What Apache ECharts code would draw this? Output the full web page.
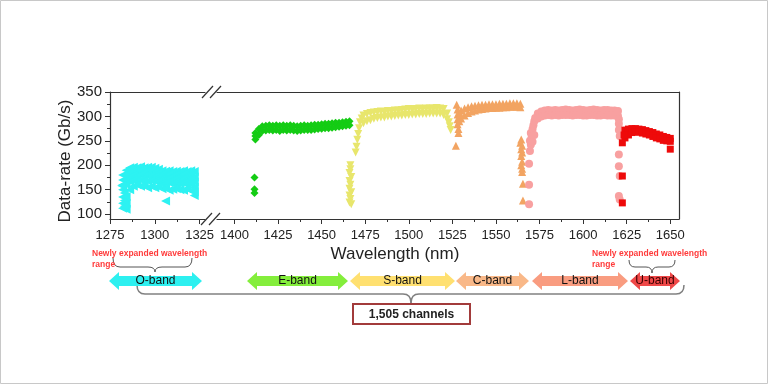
<!DOCTYPE html>
<html><head><meta charset="utf-8">
<script src="https://cdn.jsdelivr.net/npm/echarts@6/dist/echarts.min.js"></script>
<style>html,body{margin:0;padding:0;background:#fff}#c{width:768px;height:384px}</style>
</head><body><div id="c"></div>
<script>
// ---------- axis ticks ----------
const yTicks = [100, 150, 200, 250, 300, 350];
const yMinorTicks = [125, 175, 225, 275, 325];
const xTicksLeft = [1275, 1300, 1325];
const xMinorLeft = [1287.5, 1312.5];
const xTicksRight = [1400, 1425, 1450, 1475, 1500, 1525, 1550, 1575, 1600, 1625, 1650];
const xMinorRight = [1412.5, 1437.5, 1462.5, 1487.5, 1512.5, 1537.5, 1562.5, 1587.5, 1612.5, 1637.5];

// ---------- O-band ----------
const oWl = [1282,1284,1286,1288,1290,1292,1294,1296,1298,1300,1302,1304,1306,1308,1310,1312,1314,1316,1318,1320,1322];
const oHigh  = [180,190,195,196,195,197,195,196,196,194,192,189,188,189,187,188,187,189,187,189,187];
const oUpper = [170,180,186,188,187,189,187,188,187,186,184,181,180,181,179,180,179,181,179,180,176];
const oMid   = [160,170,177,179,178,180,178,179,178,177,175,172,172,173,171,172,171,172,171,172,166];
const oLower = [150,160,167,169,169,170,169,168,169,168,167,163,163,164,162,163,162,163,162,162,155];
const oLow   = [112,110,150,157,160,157,158,154,157,154,156,152,153,149,151,152,150,149,152,148,138];
const oExtraWl   = [1282,1282,1283,1283,1284,1284,1306,1322,1281.5,1283];
const oExtraRate = [122,135,128,143,122,136,127,146,158,116];

// ---------- E-band ----------
const eWl = [1412,1414,1416,1418,1420,1422,1424,1426,1428,1430,1432,1434,1436,1438,1440,1442,1444,1446,1448,1450,1452,1454,1456,1458,1460,1462,1464,1466];
const eHigh = [266,274,280,281,282,281,282,281,282,281,282,281,280,281,282,281,282,283,283,284,285,285,286,287,287,288,289,290];
const eLow  = [253,262,270,271,272,271,272,270,272,271,272,271,270,271,272,272,272,273,274,275,276,276,277,278,279,280,281,282];
const eExtraWl   = [1412,1411.5,1411.5,1411.5];
const eExtraRate = [260,175,151,143];

// ---------- S-band ----------
const sWl = [1474,1476,1478,1480,1482,1484,1486,1488,1490,1492,1494,1496,1498,1500,1502,1504,1506,1508,1510,1512,1514,1516,1518,1520,1522];
const sHigh = [302,305,307,308,309,310,309,311,311,312,312,313,314,315,314,315,316,315,316,316,316,317,316,315,306];
const sLow  = [286,290,292,295,297,298,298,300,300,301,302,302,303,303,304,304,305,305,305,306,306,306,306,303,294];
const sExtraWl   = [1473,1472,1471.5,1471,1470.5,1470,1469.5,1466.5,1466.5,1466,1467,1466,1466.5,1466,1467,1466,1466.5,1466,1467,1523,1523.5,1524];
const sExtraRate = [296,288,276,264,252,238,226,200,192,184,176,168,160,152,145,138,131,124,120,288,280,272];

// ---------- C-band ----------
const cWl = [1530,1532,1534,1536,1538,1540,1542,1544,1546,1548,1550,1552,1554,1556,1558,1560,1562,1564];
const cHigh = [312,316,319,321,322,323,324,324,325,325,325,326,326,326,327,327,327,326];
const cLow  = [296,302,307,310,312,314,315,316,317,317,318,318,319,319,320,320,320,319];
const cExtraWl   = [1527.5,1528,1528,1528,1528,1528.5,1528.5,1529,1529.5,1527,1564.5,1564,1565,1564.5,1565,1564.5,1565,1564.5,1565,1565,1565.5,1565.5];
const cExtraRate = [324,314,304,294,284,274,266,290,305,240,253,246,240,233,226,219,207,200,193,186,162,128];

// ---------- L-band ----------
const lWl = [1574,1576,1578,1580,1582,1584,1586,1588,1590,1592,1594,1596,1598,1600,1602,1604,1606,1608,1610,1612,1614,1616,1618,1620];
const lHigh = [306,310,312,313,312,313,312,313,314,313,312,313,314,313,312,313,314,313,312,313,313,312,312,311];
const lLow  = [296,300,302,303,302,303,302,303,303,303,302,303,303,302,302,303,303,302,302,303,302,302,302,301];
const lExtraWl   = [1569,1569,1569,1569.5,1570,1569.5,1570.5,1570,1571,1571.5,1572,1572.5,1571,1572,1620.5,1620.5,1620.5,1621,1620.5,1620.5,1621,1620.5,1621];
const lExtraRate = [120,160,203,229,242,250,258,266,274,282,290,297,248,262,294,285,272,260,222,198,178,137,130];

// ---------- U-band ----------
const uWl = [1624,1626,1628,1630,1632,1634,1636,1638,1640,1642,1644,1646,1648,1650];
const uHigh = [272,274,275,275,274,273,271,269,267,264,262,259,257,255];
const uLow  = [256,262,267,268,268,266,264,262,259,256,254,251,250,249];
const uExtraWl   = [1622.5,1622.5,1622.5,1650,1623.5];
const uExtraRate = [246,178,123,233,262];

// ---------- band annotation labels ----------
const bandNames = ['O-band','E-band','S-band','C-band','L-band','U-band'];
const totalLabel = '1,505 channels';
const newRangeLine1 = 'Newly expanded wavelength';
const newRangeLine2 = 'range';

// ---------- helpers ----------
function pts(wl, rows, exWl, exRate) {
  const out = [];
  rows.forEach(r => r.forEach((v, i) => out.push([wl[i], v])));
  exWl.forEach((w, i) => out.push([w, exRate[i]]));
  return out;
}
function arrow(x1, x2, cy) {
  const hl = 10, hh = 9, bh = 5;
  return [[x1, cy], [x1 + hl, cy - hh], [x1 + hl, cy - bh], [x2 - hl, cy - bh], [x2 - hl, cy - hh], [x2, cy],
          [x2 - hl, cy + hh], [x2 - hl, cy + bh], [x1 + hl, cy + bh], [x1 + hl, cy + hh]];
}
function brace(x1, x2, xc, yEnd, yBar, yTip, r, stroke, lw) {
  const st = { fill: 'none', stroke, lineWidth: lw };
  return [
    { type: 'bezierCurve', shape: { x1: x1, y1: yEnd, cpx1: x1, cpy1: yBar, x2: x1 + r, y2: yBar }, style: st },
    { type: 'line', shape: { x1: x1 + r, y1: yBar, x2: xc - r, y2: yBar }, style: st },
    { type: 'bezierCurve', shape: { x1: xc - r, y1: yBar, cpx1: xc, cpy1: yBar, x2: xc, y2: yTip }, style: st },
    { type: 'bezierCurve', shape: { x1: xc, y1: yTip, cpx1: xc, cpy1: yBar, x2: xc + r, y2: yBar }, style: st },
    { type: 'line', shape: { x1: xc + r, y1: yBar, x2: x2 - r, y2: yBar }, style: st },
    { type: 'bezierCurve', shape: { x1: x2 - r, y1: yBar, cpx1: x2, cpy1: yBar, x2: x2, y2: yEnd }, style: st }
  ];
}

const AX = '#333';
const FONT = "'Liberation Sans', Arial, sans-serif";
const Y0 = 90, Y1 = 350;

function xMain(grid, min, max, ticks) {
  return { gridIndex: grid, type: 'value', min, max, position: 'bottom',
    axisLine: { show: true, lineStyle: { color: AX, width: 1.2 } },
    axisTick: { show: true, inside: false, length: 5, customValues: ticks, lineStyle: { color: AX, width: 1 } },
    axisLabel: { show: true, customValues: ticks, margin: 10, fontSize: 13, fontFamily: FONT, color: '#222',
      formatter: v => String(v) },
    splitLine: { show: false } };
}
function xMinor(grid, min, max, ticks) {
  return { gridIndex: grid, type: 'value', min, max, position: 'bottom',
    axisLine: { show: false },
    axisTick: { show: true, inside: false, length: 3, customValues: ticks, lineStyle: { color: AX, width: 1 } },
    axisLabel: { show: false }, splitLine: { show: false } };
}
function xTop(grid, min, max) {
  return { gridIndex: grid, type: 'value', min, max, position: 'top',
    axisLine: { show: true, lineStyle: { color: AX, width: 1.2 } },
    axisTick: { show: false }, axisLabel: { show: false }, splitLine: { show: false } };
}

const bandX1 = [109, 247, 350, 456, 532, 630];
const bandX2 = [202, 348, 455, 529, 628, 680];
const bandCol = ['#2df0f0', '#84ee3c', '#ffe070', '#f9b888', '#f99c80', '#ef4848'];
const bandTxt = ['#111', '#111', '#111', '#111', '#111', '#3a0000'];
const CY = 281;
const noteStyle = { fontSize: 8.5, fontWeight: 'bold', fontFamily: FONT, fill: '#ff3b3b', align: 'left', verticalAlign: 'middle' };

const graphic = [
  { type: 'rect', shape: { x: 0.5, y: 0.5, width: 767, height: 383 }, style: { fill: 'none', stroke: '#c8c8c8', lineWidth: 1 }, z: 0 },
  { type: 'line', shape: { x1: 202, y1: 98, x2: 213, y2: 86 }, style: { stroke: AX, lineWidth: 1.2 } },
  { type: 'line', shape: { x1: 210, y1: 98, x2: 221, y2: 86 }, style: { stroke: AX, lineWidth: 1.2 } },
  { type: 'line', shape: { x1: 201, y1: 225, x2: 212, y2: 213 }, style: { stroke: AX, lineWidth: 1.2 } },
  { type: 'line', shape: { x1: 209, y1: 225, x2: 220, y2: 213 }, style: { stroke: AX, lineWidth: 1.2 } },
  { type: 'text', x: 65, y: 161, rotation: Math.PI / 2,
    style: { text: 'Data-rate (Gb/s)', fontSize: 17, fontFamily: FONT, fill: '#222', align: 'center', verticalAlign: 'middle' } },
  { type: 'text', x: 395, y: 254,
    style: { text: 'Wavelength (nm)', fontSize: 17, fontFamily: FONT, fill: '#222', align: 'center', verticalAlign: 'middle' } }
];
graphic.push(...brace(137, 684, 411, 285, 294, 303, 8, '#808080', 1.5));
graphic.push(...brace(113, 192, 155, 258, 267, 272, 7, '#555', 1));
graphic.push(...brace(629, 675, 652, 260, 267, 273, 6, '#555', 1));
graphic.push(
  { type: 'rect', shape: { x: 353, y: 304, width: 117, height: 20 }, style: { fill: '#fff', stroke: '#a23b3b', lineWidth: 2 } },
  { type: 'text', x: 411.5, y: 314.5,
    style: { text: totalLabel, fontSize: 12, fontWeight: 'bold', fontFamily: FONT, fill: '#222', align: 'center', verticalAlign: 'middle' } },
  { type: 'text', x: 92, y: 253.5, style: Object.assign({ text: newRangeLine1 }, noteStyle) },
  { type: 'text', x: 92, y: 264.5, style: Object.assign({ text: newRangeLine2 }, noteStyle) },
  { type: 'text', x: 592, y: 253.5, style: Object.assign({ text: newRangeLine1 }, noteStyle) },
  { type: 'text', x: 592, y: 264.5, style: Object.assign({ text: newRangeLine2 }, noteStyle) }
);
bandNames.forEach((name, i) => {
  graphic.push({ type: 'polygon', shape: { points: arrow(bandX1[i], bandX2[i], CY) }, style: { fill: bandCol[i] } });
  graphic.push({ type: 'text', x: (bandX1[i] + bandX2[i]) / 2, y: CY,
    style: { text: name, fontSize: 12, fontFamily: FONT, fill: bandTxt[i], align: 'center', verticalAlign: 'middle' } });
});

function sc(name, data, xi, yi, symbol, size, color, rot) {
  return { name, type: 'scatter', xAxisIndex: xi, yAxisIndex: yi, data, symbol, symbolSize: size,
    symbolRotate: rot || 0, itemStyle: { color, opacity: 1 }, emphasis: { disabled: true }, silent: true, z: 3 };
}

const option = {
  animation: false,
  backgroundColor: '#fff',
  grid: [
    { left: 110, top: 92, width: 95, height: 127 },
    { left: 217, top: 92, width: 462, height: 127 }
  ],
  xAxis: [
    xMain(0, 1275, 1328, xTicksLeft), xMinor(0, 1275, 1328, xMinorLeft), xTop(0, 1275, 1328),
    xMain(1, 1390, 1655, xTicksRight), xMinor(1, 1390, 1655, xMinorRight), xTop(1, 1390, 1655)
  ],
  yAxis: [
    { gridIndex: 0, type: 'value', min: Y0, max: Y1, position: 'left',
      axisLine: { show: true, lineStyle: { color: AX, width: 1.2 } },
      axisTick: { show: true, inside: false, length: 5, customValues: yTicks, lineStyle: { color: AX } },
      axisLabel: { customValues: yTicks, margin: 8, fontSize: 15, fontFamily: FONT, color: '#222' },
      splitLine: { show: false } },
    { gridIndex: 0, type: 'value', min: Y0, max: Y1, position: 'left',
      axisLine: { show: false },
      axisTick: { show: true, inside: false, length: 3, customValues: yMinorTicks, lineStyle: { color: AX } },
      axisLabel: { show: false }, splitLine: { show: false } },
    { gridIndex: 1, type: 'value', min: Y0, max: Y1, position: 'right',
      axisLine: { show: true, lineStyle: { color: AX, width: 1.2 } },
      axisTick: { show: false }, axisLabel: { show: false }, splitLine: { show: false } }
  ],
  series: [
    sc('O-band', pts(oWl, [oHigh, oUpper, oMid, oLower, oLow], oExtraWl, oExtraRate), 0, 0, 'triangle', 9, '#2df2f2', 90),
    sc('E-band', pts(eWl, [eHigh, eLow], eExtraWl, eExtraRate), 3, 2, 'diamond', 8, '#14cc14'),
    sc('S-band', pts(sWl, [sHigh, sLow], sExtraWl, sExtraRate), 3, 2, 'triangle', 8, '#e8e66c', 180),
    sc('C-band', pts(cWl, [cHigh, cLow], cExtraWl, cExtraRate), 3, 2, 'triangle', 8, '#f2a462'),
    sc('L-band', pts(lWl, [lHigh, lLow], lExtraWl, lExtraRate), 3, 2, 'circle', 8, '#f8a0a0'),
    sc('U-band', pts(uWl, [uHigh, uLow], uExtraWl, uExtraRate), 3, 2, 'rect', 7, '#ee0a0a')
  ],
  graphic: graphic
};
const chart = echarts.init(document.getElementById('c'), null, { renderer: 'canvas' });
chart.setOption(option);
</script>
</body></html>
